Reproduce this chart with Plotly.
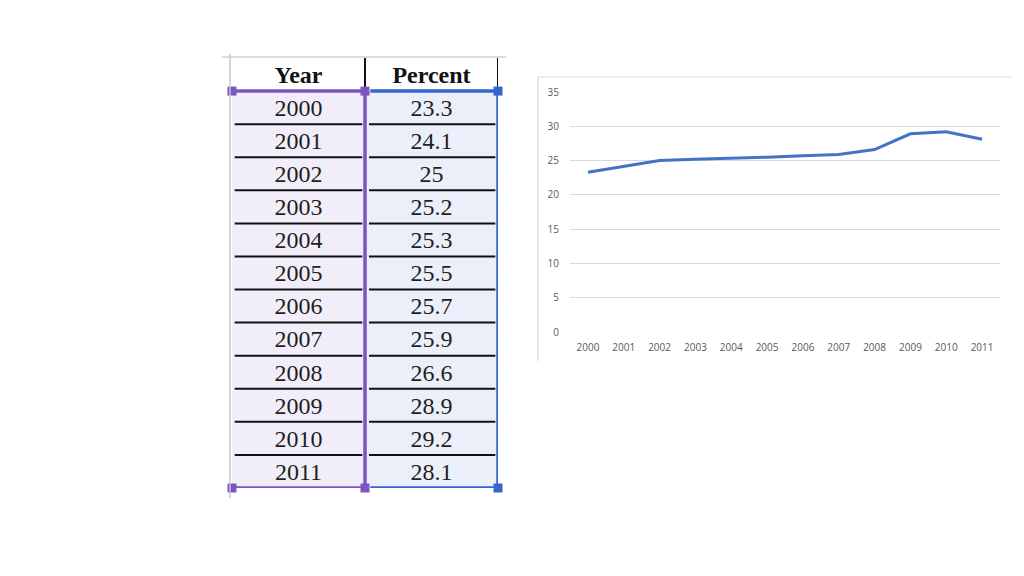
import plotly.graph_objects as go

# ---- data ----
years = [2000, 2001, 2002, 2003, 2004, 2005, 2006, 2007, 2008, 2009, 2010, 2011]
percent = [23.3, 24.1, 25, 25.2, 25.3, 25.5, 25.7, 25.9, 26.6, 28.9, 29.2, 28.1]
headers = ["Year", "Percent"]
y_ticks = [0, 5, 10, 15, 20, 25, 30, 35]

W, H = 1024, 576
def px(x):
    return x / W
def py(y):
    return 1 - y / H

PURPLE = "#7d55c1"
BLUE = "#3466cc"
FILL_L = "#f1eef9"
FILL_R = "#eaeff9"
LINE = "#4472c4"
TXT_DY = 0.07  # small baseline nudge for text inside cells

fig = go.Figure()

n = len(years)
rows = list(range(1, n + 1))
year_txt = [str(y) for y in years]
pct_txt = [f"{v:g}" for v in percent]

# ---- table (axes x2/y2) ----
fig.add_trace(go.Bar(x=[1] * n, y=rows, base=0, orientation="h", width=1,
                     marker=dict(color=FILL_L, line=dict(width=0)),
                     xaxis="x2", yaxis="y2", hoverinfo="skip"))
fig.add_trace(go.Bar(x=[1] * n, y=rows, base=1, orientation="h", width=1,
                     marker=dict(color=FILL_R, line=dict(width=0)),
                     xaxis="x2", yaxis="y2", hoverinfo="skip"))

# row separators (between data rows)
sx, sy = [], []
for k in range(1, n):
    b = k + 0.5
    sx += [0.02, 0.98, None, 1.03, 1.98, None]
    sy += [b, b, None, b, b, None]
fig.add_trace(go.Scatter(x=sx, y=sy, mode="lines", line=dict(color="#111111", width=2),
                         xaxis="x2", yaxis="y2", hoverinfo="skip"))

# header vertical separators (black)
fig.add_trace(go.Scatter(x=[1, 1, None, 2, 2], y=[-0.5, 0.4, None, -0.5, 0.4], mode="lines",
                         line=dict(color="#111111", width=2), xaxis="x2", yaxis="y2",
                         hoverinfo="skip"))

top, bot = 0.5, n + 0.5
# purple selection (Year column)
fig.add_trace(go.Scatter(x=[0.03, 1, 1, 0.03], y=[top, top, bot, bot], mode="lines",
                         line=dict(color=PURPLE, width=3.5), xaxis="x2", yaxis="y2",
                         hoverinfo="skip"))
# blue selection (Percent column)
fig.add_trace(go.Scatter(x=[1.04, 2, 2, 1.04], y=[top, top, bot, bot], mode="lines",
                         line=dict(color=BLUE, width=3.5), xaxis="x2", yaxis="y2",
                         hoverinfo="skip"))
# corner handles
fig.add_trace(go.Scatter(x=[0, 1, 0, 1], y=[top, top, bot, bot], mode="markers",
                         marker=dict(symbol="square", size=9, color=PURPLE),
                         xaxis="x2", yaxis="y2", hoverinfo="skip", cliponaxis=False))
fig.add_trace(go.Scatter(x=[2, 2], y=[top, bot], mode="markers",
                         marker=dict(symbol="square", size=9, color=BLUE),
                         xaxis="x2", yaxis="y2", hoverinfo="skip", cliponaxis=False))

# texts
fig.add_trace(go.Scatter(x=[0.5, 1.5], y=[TXT_DY, TXT_DY], mode="text", text=headers,
                         textfont=dict(family="Liberation Serif", size=24, color="#111111",
                                       weight="bold"),
                         xaxis="x2", yaxis="y2", hoverinfo="skip"))
fig.add_trace(go.Scatter(x=[0.5] * n, y=[r + TXT_DY for r in rows], mode="text", text=year_txt,
                         textfont=dict(family="Liberation Serif", size=24, color="#1f1f1f"),
                         xaxis="x2", yaxis="y2", hoverinfo="skip"))
fig.add_trace(go.Scatter(x=[1.5] * n, y=[r + TXT_DY for r in rows], mode="text", text=pct_txt,
                         textfont=dict(family="Liberation Serif", size=24, color="#1f1f1f"),
                         xaxis="x2", yaxis="y2", hoverinfo="skip"))

# ---- line chart ----
fig.add_trace(go.Scatter(x=year_txt, y=percent, mode="lines",
                         line=dict(color=LINE, width=3), xaxis="x", yaxis="y"))

shapes = [
    # spreadsheet gridlines
    dict(type="line", xref="paper", yref="paper", x0=px(230), x1=px(230), y0=py(54), y1=py(498),
         line=dict(color="#c8c8c8", width=1.5)),
    dict(type="line", xref="paper", yref="paper", x0=px(222), x1=px(506), y0=py(57), y1=py(57),
         line=dict(color="#d0d0d0", width=1.5)),
    # chart frame
    dict(type="line", xref="paper", yref="paper", x0=px(538), x1=px(1012), y0=py(77), y1=py(77),
         line=dict(color="#e6e6e6", width=1.5)),
    dict(type="line", xref="paper", yref="paper", x0=px(538), x1=px(538), y0=py(77), y1=py(361),
         line=dict(color="#e0e0e0", width=1.5)),
]

fig.update_layout(
    width=W, height=H, autosize=False,
    margin=dict(l=0, r=0, t=0, b=0, pad=0, autoexpand=False),
    paper_bgcolor="white", plot_bgcolor="rgba(0,0,0,0)",
    showlegend=False,
    barmode="overlay",
    shapes=shapes,
    xaxis=dict(domain=[px(570), px(1000)], type="category", range=[-0.5, 11.5],
               showgrid=False, zeroline=False, showline=False,
               ticks="outside", ticklen=6, tickcolor="rgba(0,0,0,0)",
               tickfont=dict(family="Open Sans", size=10, color="#595959"),
               fixedrange=True, automargin=False),
    yaxis=dict(domain=[py(332), py(92)], range=[0, 35], tickvals=y_ticks,
               showgrid=True, gridcolor="#d9d9d9", gridwidth=1, zeroline=False,
               showline=False, ticklabelstandoff=10,
               tickfont=dict(family="Open Sans", size=10, color="#595959"),
               fixedrange=True, automargin=False),
    xaxis2=dict(domain=[px(232), px(498)], range=[0, 2], visible=False, fixedrange=True),
    yaxis2=dict(domain=[py(488), py(58)], range=[n + 0.5, -0.5], visible=False,
                fixedrange=True),
)

fig.write_html("out.html")
